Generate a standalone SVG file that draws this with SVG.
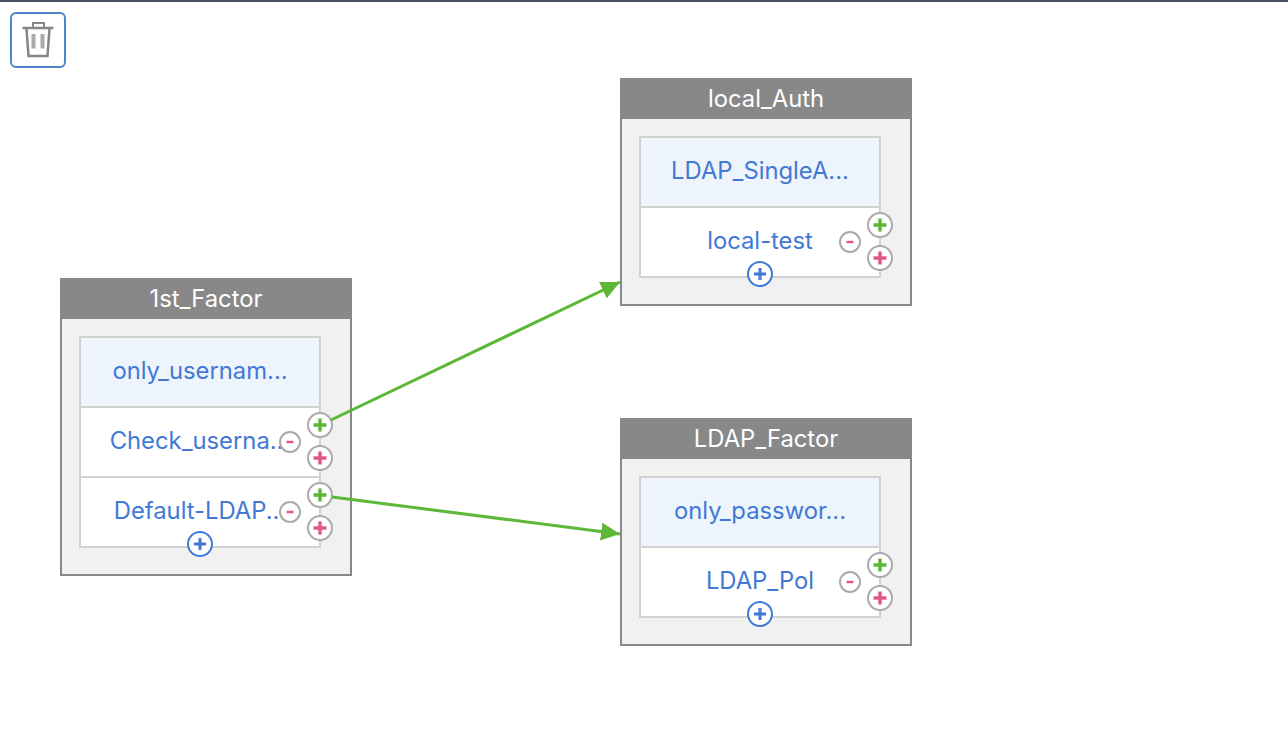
<svg xmlns="http://www.w3.org/2000/svg" width="1288" height="754" viewBox="0 0 1288 754">
<style>
text{font-family:"Inter","Liberation Sans",sans-serif;text-anchor:middle}
.box{fill:#f1f1f1;stroke:#888;stroke-width:2}
.head{fill:#888}
.title{fill:#fff;font-size:23.800px}
.lbl{fill:#4279d6;font-size:23.800px}
.pol{fill:#edf4fb;stroke:#d2d2d2;stroke-width:2}
.row{fill:#fff;stroke:#d2d2d2;stroke-width:2}
.btn{fill:#fff;stroke:#aaa;stroke-width:2}
.g{stroke:#5cb836;stroke-width:3.500;fill:none}
.p{stroke:#e3588c;stroke-width:3.500;fill:none}
.m{stroke:#e3588c;stroke-width:2.500;fill:none}
.bl{stroke:#4279d6;stroke-width:3;fill:none}
.blc{fill:#fff;stroke:#4279d6;stroke-width:2}
.conn{stroke:#5cb836;stroke-width:3;fill:none;marker-end:url(#arrow)}
</style>
<defs>
<marker id="arrow" markerUnits="userSpaceOnUse" markerWidth="20" markerHeight="18" refX="19" refY="9" orient="auto" viewBox="0 0 20 18"><path d="M0 0L19 9L0 18Z" fill="#5cb836"/></marker>
<g id="add"><circle class="btn" r="12"/><path class="g" d="M-6.500 0H6.500M0-6.500V6.500"/></g>
<g id="next"><circle class="btn" r="12"/><path class="p" d="M-6.500 0H6.500M0-6.500V6.500"/></g>
<g id="minus"><circle class="btn" r="10"/><path class="m" d="M-3.500 0H3.500"/></g>
<g id="blue"><circle class="blc" r="12"/><path class="bl" d="M-6 0H6M0-6V6"/></g>
</defs>
<rect x="0" y="0" width="1288" height="2" fill="#47505c"/>
<g id="delete">
<rect x="11" y="13" width="54" height="54" rx="5" fill="#fff" stroke="#4a86c8" stroke-width="2"/>
<g fill="none" stroke="#858585" stroke-width="2.500"><path d="M22.500 28H53.500"/><path d="M33 27V23H44V27" stroke-width="2"/><path d="M26.500 29L28.500 56H47.500L49.500 29"/></g>
<path d="M33.500 34V48.500M42.500 34V48.500" stroke="#aaa" stroke-width="4"/>
</g>
<g id="node-1st_Factor">
<rect class="box" x="61" y="279" width="290" height="296"/>
<rect class="head" x="60" y="278" width="292" height="41"/>
<text class="title" x="206" y="307">1st_Factor</text>
<rect class="pol" x="80" y="337" width="240" height="70"/>
<text class="lbl" x="200" y="379">only_usernam...</text>
<rect class="row" x="80" y="407" width="240" height="70"/>
<text class="lbl" x="200" y="449">Check_userna...</text>
<rect class="row" x="80" y="477" width="240" height="70"/>
<text class="lbl" x="200" y="519">Default-LDAP...</text>
<use href="#minus" x="290" y="442"/><use href="#add" x="320" y="425"/><use href="#next" x="320" y="458"/>
<use href="#minus" x="290" y="512"/><use href="#add" x="320" y="495"/><use href="#next" x="320" y="528"/>
<use href="#blue" x="200" y="544"/>
</g>
<g id="node-local_Auth">
<rect class="box" x="621" y="79" width="290" height="226"/>
<rect class="head" x="620" y="78" width="292" height="41"/>
<text class="title" x="766" y="107">local_Auth</text>
<rect class="pol" x="640" y="137" width="240" height="70"/>
<text class="lbl" x="760" y="179">LDAP_SingleA...</text>
<rect class="row" x="640" y="207" width="240" height="70"/>
<text class="lbl" x="760" y="249">local-test</text>
<use href="#minus" x="850" y="242"/><use href="#add" x="880" y="225"/><use href="#next" x="880" y="258"/>
<use href="#blue" x="760" y="274"/>
</g>
<g id="node-LDAP_Factor">
<rect class="box" x="621" y="419" width="290" height="226"/>
<rect class="head" x="620" y="418" width="292" height="41"/>
<text class="title" x="766" y="447">LDAP_Factor</text>
<rect class="pol" x="640" y="477" width="240" height="70"/>
<text class="lbl" x="760" y="519">only_passwor...</text>
<rect class="row" x="640" y="547" width="240" height="70"/>
<text class="lbl" x="760" y="589">LDAP_Pol</text>
<use href="#minus" x="850" y="582"/><use href="#add" x="880" y="565"/><use href="#next" x="880" y="598"/>
<use href="#blue" x="760" y="614"/>
</g>
<g id="connectors">
<path class="conn" d="M331 420L620 282"/>
<path class="conn" d="M332 497L620 534"/>
</g>
</svg>
